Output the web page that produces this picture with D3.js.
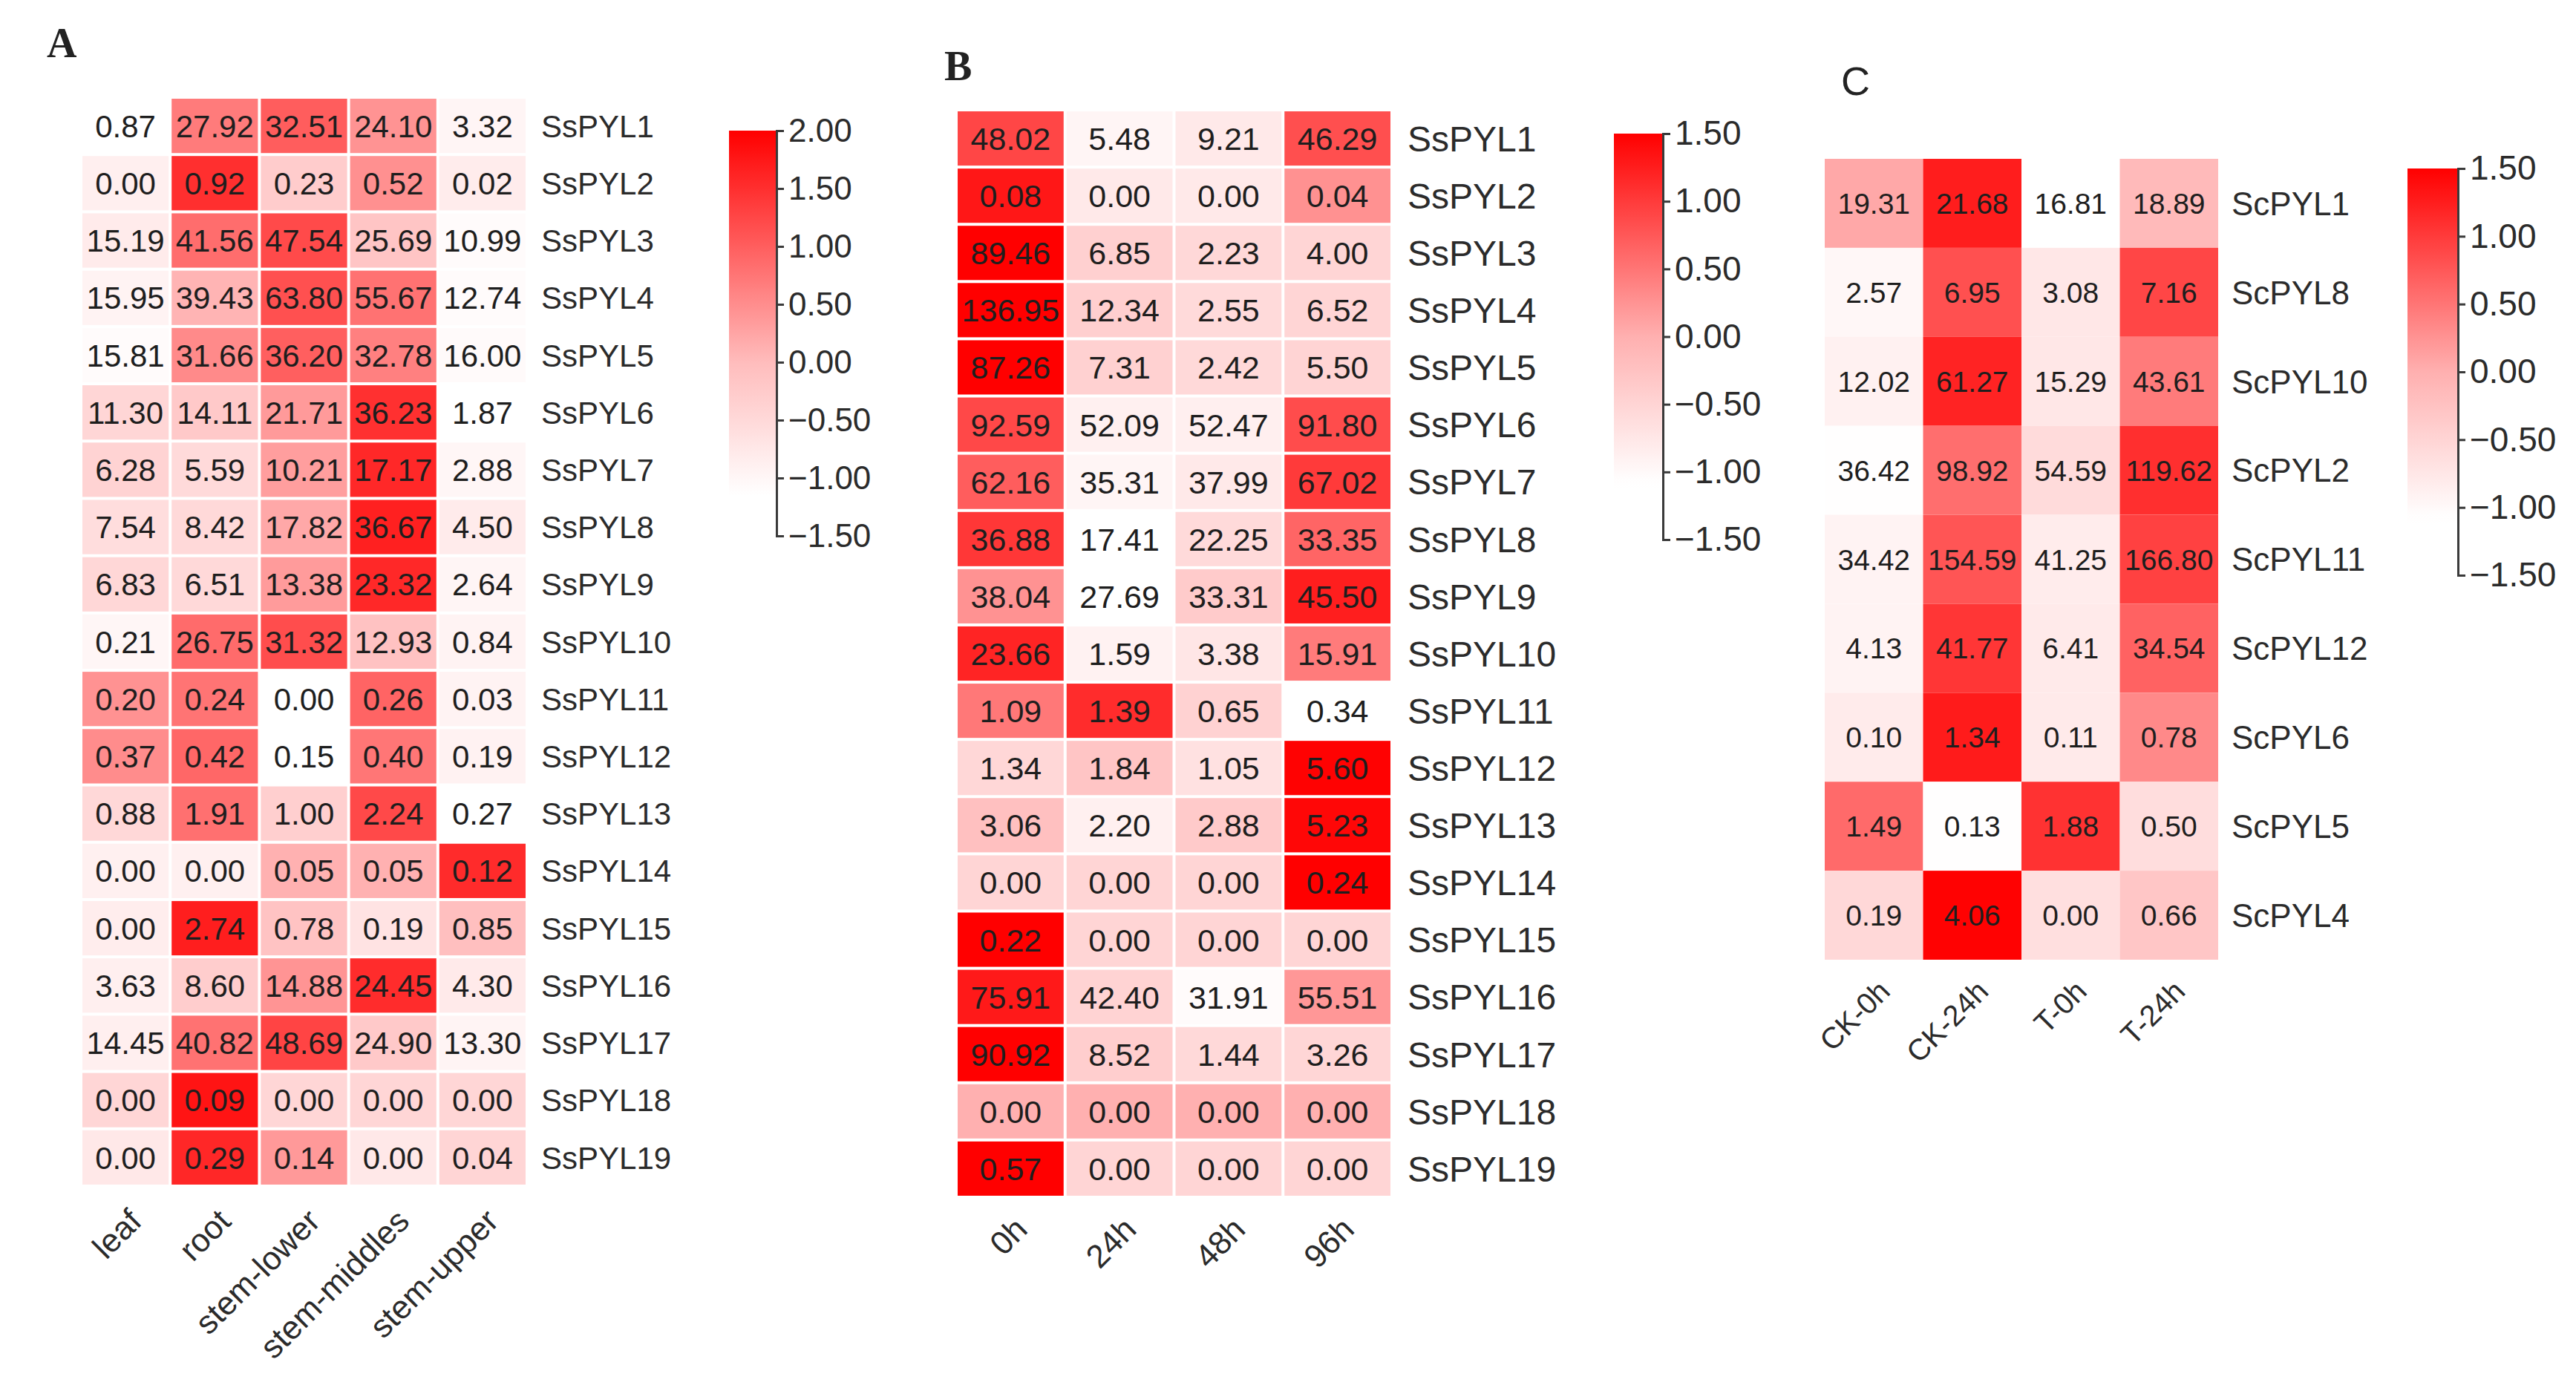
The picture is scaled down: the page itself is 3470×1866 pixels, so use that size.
<!DOCTYPE html>
<html>
<head>
<meta charset="utf-8">
<script src="https://cdn.jsdelivr.net/npm/d3@7"></script>
<style>
  body { margin: 0; background: #fff; }
  svg text { font-family: Arial, 'Liberation Sans', sans-serif; }
</style>
</head>
<body>
<svg id="chart" width="3470" height="1866"></svg>
<script>

// A - tissues
var tissueCols = ["leaf", "root", "stem-lower", "stem-middles", "stem-upper"];
var tissueGenes = ["SsPYL1", "SsPYL2", "SsPYL3", "SsPYL4", "SsPYL5", "SsPYL6", "SsPYL7",
  "SsPYL8", "SsPYL9", "SsPYL10", "SsPYL11", "SsPYL12", "SsPYL13", "SsPYL14", "SsPYL15",
  "SsPYL16", "SsPYL17", "SsPYL18", "SsPYL19"];
var tissueValues = [
  [0.87, 27.92, 32.51, 24.10, 3.32],
  [0.00, 0.92, 0.23, 0.52, 0.02],
  [15.19, 41.56, 47.54, 25.69, 10.99],
  [15.95, 39.43, 63.80, 55.67, 12.74],
  [15.81, 31.66, 36.20, 32.78, 16.00],
  [11.30, 14.11, 21.71, 36.23, 1.87],
  [6.28, 5.59, 10.21, 17.17, 2.88],
  [7.54, 8.42, 17.82, 36.67, 4.50],
  [6.83, 6.51, 13.38, 23.32, 2.64],
  [0.21, 26.75, 31.32, 12.93, 0.84],
  [0.20, 0.24, 0.00, 0.26, 0.03],
  [0.37, 0.42, 0.15, 0.40, 0.19],
  [0.88, 1.91, 1.00, 2.24, 0.27],
  [0.00, 0.00, 0.05, 0.05, 0.12],
  [0.00, 2.74, 0.78, 0.19, 0.85],
  [3.63, 8.60, 14.88, 24.45, 4.30],
  [14.45, 40.82, 48.69, 24.90, 13.30],
  [0.00, 0.09, 0.00, 0.00, 0.00],
  [0.00, 0.29, 0.14, 0.00, 0.04]
];
var tissueTicks = [2.00, 1.50, 1.00, 0.50, 0.00, -0.50, -1.00, -1.50];

// B - time course
var timeCols = ["0h", "24h", "48h", "96h"];
var timeGenes = tissueGenes.slice();
var timeValues = [
  [48.02, 5.48, 9.21, 46.29],
  [0.08, 0.00, 0.00, 0.04],
  [89.46, 6.85, 2.23, 4.00],
  [136.95, 12.34, 2.55, 6.52],
  [87.26, 7.31, 2.42, 5.50],
  [92.59, 52.09, 52.47, 91.80],
  [62.16, 35.31, 37.99, 67.02],
  [36.88, 17.41, 22.25, 33.35],
  [38.04, 27.69, 33.31, 45.50],
  [23.66, 1.59, 3.38, 15.91],
  [1.09, 1.39, 0.65, 0.34],
  [1.34, 1.84, 1.05, 5.60],
  [3.06, 2.20, 2.88, 5.23],
  [0.00, 0.00, 0.00, 0.24],
  [0.22, 0.00, 0.00, 0.00],
  [75.91, 42.40, 31.91, 55.51],
  [90.92, 8.52, 1.44, 3.26],
  [0.00, 0.00, 0.00, 0.00],
  [0.57, 0.00, 0.00, 0.00]
];
var timeTicks = [1.50, 1.00, 0.50, 0.00, -0.50, -1.00, -1.50];

// C - treatment
var treatCols = ["CK-0h", "CK-24h", "T-0h", "T-24h"];
var treatGenes = ["ScPYL1", "ScPYL8", "ScPYL10", "ScPYL2", "ScPYL11", "ScPYL12", "ScPYL6", "ScPYL5", "ScPYL4"];
var treatValues = [
  [19.31, 21.68, 16.81, 18.89],
  [2.57, 6.95, 3.08, 7.16],
  [12.02, 61.27, 15.29, 43.61],
  [36.42, 98.92, 54.59, 119.62],
  [34.42, 154.59, 41.25, 166.80],
  [4.13, 41.77, 6.41, 34.54],
  [0.10, 1.34, 0.11, 0.78],
  [1.49, 0.13, 1.88, 0.50],
  [0.19, 4.06, 0.00, 0.66]
];
var treatTicks = [1.50, 1.00, 0.50, 0.00, -0.50, -1.00, -1.50];


var svg = d3.select('svg#chart');
var numFmt = d3.format('.2f');

svg.append('rect')
   .attr('width', 3470)
   .attr('height', 1866)
   .attr('fill', '#fff');


// row-wise scaling, like the heatmap tool does
function zScores(row) {
  var m = d3.mean(row), sd = d3.deviation(row);
  return row.map(function(v) { return sd ? (v - m) / sd : 0; });
}


function drawHeatmap(opt) {
  var x = d3.scaleBand().domain(opt.cols).range([opt.left, opt.right]);
  var y = d3.scaleBand().domain(opt.genes).range([opt.top, opt.bottom]);
  var half = opt.gap / 2;

  var cells = [];
  opt.values.forEach(function(row, i) {
    var z = zScores(row);
    row.forEach(function(v, j) {
      cells.push({ gene: opt.genes[i], col: opt.cols[j], value: v, z: z[j] });
    });
  });

  var g = svg.append('g');

  g.selectAll('rect.cell')
    .data(cells)
    .enter().append('rect')
    .attr('class', 'cell')
    .attr('x', function(d) { return x(d.col) + half; })
    .attr('y', function(d) { return y(d.gene) + half; })
    .attr('width', x.bandwidth() - opt.gap)
    .attr('height', y.bandwidth() - opt.gap)
    .attr('fill', function(d) { return opt.color(d.z); });

  g.selectAll('text.val')
    .data(cells)
    .enter().append('text')
    .attr('class', 'val')
    .attr('x', function(d) { return x(d.col) + x.bandwidth() / 2; })
    .attr('y', function(d) { return y(d.gene) + y.bandwidth() / 2; })
    .attr('dy', '0.36em')
    .attr('text-anchor', 'middle')
    .style('font-size', opt.numSize + 'px')
    .style('fill', '#1e1e1e')
    .text(function(d) { return numFmt(d.value); });

  // gene names on the right
  g.selectAll('text.gene')
    .data(opt.genes)
    .enter().append('text')
    .attr('class', 'gene')
    .attr('x', opt.right + opt.labelGap)
    .attr('y', function(d) { return y(d) + y.bandwidth() / 2; })
    .attr('dy', '0.36em')
    .style('font-size', opt.labelSize + 'px')
    .style('fill', '#2b2b2b')
    .text(function(d) { return d; });

  // column names, rotated
  g.selectAll('text.col')
    .data(opt.cols)
    .enter().append('text')
    .attr('class', 'col')
    .attr('transform', function(d) {
      var cx = x(d) + x.bandwidth() / 2 + opt.colDx;
      return 'translate(' + cx + ',' + (opt.bottom + opt.colDy) + ') rotate(-45)';
    })
    .attr('text-anchor', 'end')
    .style('font-size', opt.colSize + 'px')
    .style('fill', '#2b2b2b')
    .text(function(d) { return d; });
}


function drawLegend(opt) {
  var y = d3.scaleLinear()
      .domain([d3.min(opt.ticks), d3.max(opt.ticks)])
      .range([opt.bottom, opt.top]);

  var grad = svg.append('defs').append('linearGradient')
      .attr('id', opt.id)
      .attr('x1', 0).attr('y1', 1)
      .attr('x2', 0).attr('y2', 0);
  var n = 40, lo = y.domain()[0], hi = y.domain()[1];
  d3.range(n + 1).forEach(function(i) {
    var v = lo + (hi - lo) * i / n;
    grad.append('stop')
        .attr('offset', (i / n * 100) + '%')
        .attr('stop-color', opt.color(v));
  });

  svg.append('rect')
     .attr('x', opt.x)
     .attr('y', opt.top)
     .attr('width', opt.width)
     .attr('height', opt.bottom - opt.top)
     .attr('fill', 'url(#' + opt.id + ')');

  var axis = d3.axisRight(y)
      .tickValues(opt.ticks)
      .tickFormat(numFmt)
      .tickSize(10)
      .tickSizeOuter(10)
      .tickPadding(6);

  var ga = svg.append('g')
      .attr('transform', 'translate(' + (opt.x + opt.width) + ',0)')
      .call(axis);

  ga.selectAll('path, line')
    .style('stroke', '#3a3a3a')
    .style('stroke-width', 3);
  ga.selectAll('text')
    .style('font-size', opt.fontSize + 'px')
    .style('font-family', "Arial, 'Liberation Sans', sans-serif")
    .style('fill', '#2b2b2b');
}


var colorA = d3.scaleLinear()
    .domain([-1.15, 0, 2])
    .range(['#ffffff', '#ffbcbc', '#ff0000'])
    .clamp(true);

var colorBC = d3.scaleLinear()
    .domain([-1.08, 0, 1.5])
    .range(['#ffffff', '#ffb0b0', '#ff0000'])
    .clamp(true);


drawHeatmap({
  cols: tissueCols, genes: tissueGenes, values: tissueValues, color: colorA,
  left: 109, right: 710, top: 131, bottom: 1598, gap: 4,
  numSize: 42, labelSize: 42, labelGap: 19, colSize: 44, colDx: 24, colDy: 50
});
drawLegend({ id: 'gradA', ticks: tissueTicks, color: colorA,
  x: 982, width: 64, top: 176, bottom: 722, fontSize: 44 });

drawHeatmap({
  cols: timeCols, genes: timeGenes, values: timeValues, color: colorBC,
  left: 1288, right: 1875, top: 148, bottom: 1613, gap: 4,
  numSize: 43, labelSize: 48, labelGap: 21, colSize: 44, colDx: 25, colDy: 46
});
drawLegend({ id: 'gradB', ticks: timeTicks, color: colorBC,
  x: 2174, width: 66, top: 180, bottom: 727, fontSize: 46 });

drawHeatmap({
  cols: treatCols, genes: treatGenes, values: treatValues, color: colorBC,
  left: 2458, right: 2988, top: 214, bottom: 1293, gap: 0,
  numSize: 39, labelSize: 44, labelGap: 18, colSize: 40, colDx: 24, colDy: 45
});
drawLegend({ id: 'gradC', ticks: treatTicks, color: colorBC,
  x: 3243, width: 68, top: 227, bottom: 775, fontSize: 46 });


// Panel letters
svg.append('text')
   .attr('x', 63).attr('y', 77)
   .style('font-family', "'Times New Roman', 'Liberation Serif', serif")
   .style('font-size', '56px')
   .style('font-weight', 'bold')
   .style('fill', '#222')
   .text('A');
svg.append('text')
   .attr('x', 1272).attr('y', 108)
   .style('font-family', "'Times New Roman', 'Liberation Serif', serif")
   .style('font-size', '56px')
   .style('font-weight', 'bold')
   .style('fill', '#222')
   .text('B');
svg.append('text')
   .attr('x', 2480).attr('y', 128)
   .style('font-size', '54px')
   .style('fill', '#222')
   .text('C');

</script>
</body>
</html>
